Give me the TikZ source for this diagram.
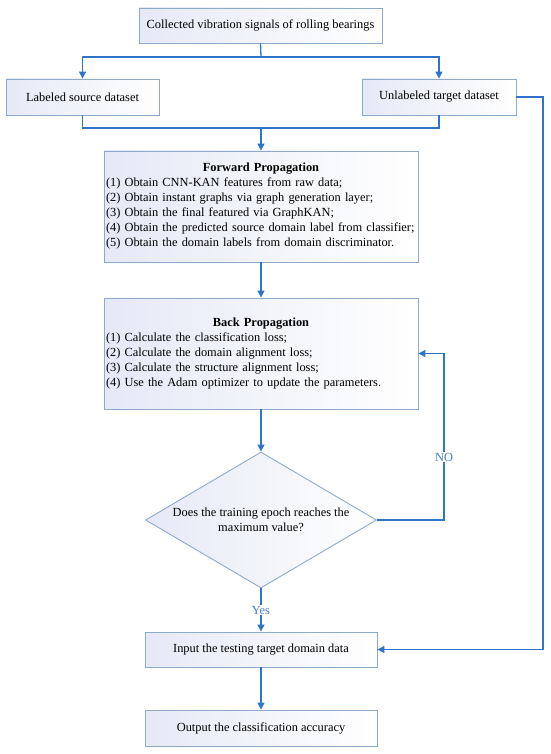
\documentclass[tikz,border=0pt]{standalone}
\usepackage{fontspec}
\setmainfont{Liberation Serif}
\usepackage{xcolor}
\usetikzlibrary{shapes.geometric,arrows.meta}

\definecolor{flowblue}{HTML}{2F74C8}
\definecolor{boxedge}{HTML}{8EAACB}
\definecolor{boxfill}{HTML}{E6E9F6}
\definecolor{labelblue}{HTML}{4A7DBF}

\tikzset{
  box/.style={draw=boxedge, line width=0.9pt, left color=boxfill, right color=white,
    inner sep=3pt, font=\fontsize{12.4}{15}\selectfont},
  stagebox/.style={box, text width=310pt, inner sep=2pt, minimum height=111pt,
    align=left},
  decision/.style={box, diamond, shape aspect=1.7, minimum width=231pt,
    minimum height=136pt, inner sep=0pt, align=center},
  flowline/.style={flowblue, line width=1.3pt},
  flowlabel/.style={fill=white, text=labelblue, inner sep=1pt,
    font=\fontsize{12.4}{15}\selectfont},
}

\begin{document}
\begin{tikzpicture}[x=1pt, y=-1pt, >={Triangle[length=7pt,width=7pt]}]
  \useasboundingbox (0,0) rectangle (550,754);

  % boxes
  \node[box, minimum width=243pt, minimum height=35pt] (signals) at (260.5,25.5)
    {Collected vibration signals of rolling bearings};
  \node[box, minimum width=153pt, minimum height=36pt] (source) at (82.5,97)
    {Labeled source dataset};
  \node[box, minimum width=154pt, minimum height=36pt] (target) at (439,97)
    {Unlabeled target dataset};

  \node[stagebox] (forward) at (261,206.5) {%
    \makebox[\linewidth][c]{\textbf{Forward Propagation}}\\
    (1) Obtain CNN-KAN features from raw data;\\
    (2) Obtain instant graphs via graph generation layer;\\
    (3) Obtain the final featured via GraphKAN;\\
    (4) Obtain the predicted source domain label from classifier;\\
    (5) Obtain the domain labels from domain discriminator.};

  \node[stagebox] (backward) at (261,353.5) {%
    \makebox[\linewidth][c]{\textbf{Back Propagation}}\\
    (1) Calculate the classification loss;\\
    (2) Calculate the domain alignment loss;\\
    (3) Calculate the structure alignment loss;\\
    (4) Use the Adam optimizer to update the parameters.};

  \node[decision] (epoch) at (261,520)
    {Does the training epoch reaches the\\maximum value?};

  \node[box, minimum width=232pt, minimum height=35pt] (testing) at (261,649.5)
    {Input the testing target domain data};
  \node[box, minimum width=232pt, minimum height=36pt] (accuracy) at (261,728)
    {Output the classification accuracy};

  % helper points
  \coordinate (split) at (261,57);
  \coordinate (merge) at (261,128);
  \coordinate (loop) at (444,520);
  \coordinate (rail) at (543,97);

  % connectors
  \draw[flowline] (signals.south) -- (split);
  \draw[flowline,->] (split) -| (source.north);
  \draw[flowline,->] (split) -| (target.north);
  \draw[flowline] (source.south) |- (merge) -| (target.south);
  \draw[flowline,->] (merge) -- (forward.north);
  \draw[flowline,->] (forward.south) -- (backward.north);
  \draw[flowline,->] (backward.south) -- (epoch.north);
  \draw[flowline,->] (epoch.east) -- (loop) |- (backward.east);
  \draw[flowline,->] (epoch.south) -- (testing.north);
  \draw[flowline,->] (target.east) -- (rail) |- (testing.east);
  \draw[flowline,->] (testing.south) -- (accuracy.north);

  \node[flowlabel] (no) at (444,457) {NO};
  \node[flowlabel] (yes) at (261,610) {Yes};
\end{tikzpicture}
\end{document}
